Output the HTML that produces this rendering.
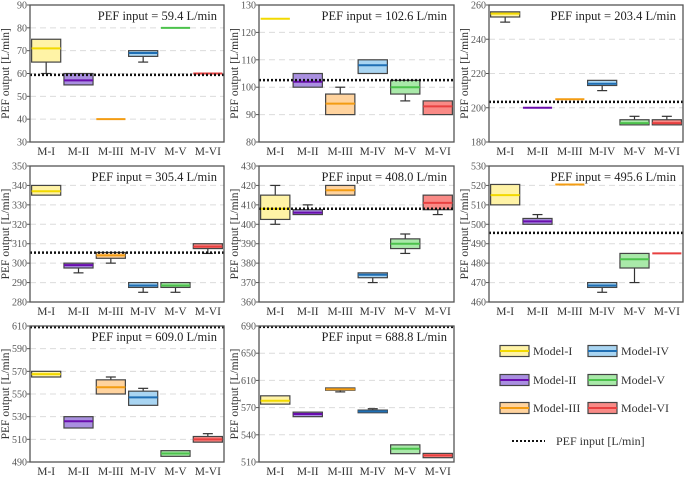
<!DOCTYPE html>
<html><head><meta charset="utf-8"><style>
html,body{margin:0;padding:0;background:#fff;}
svg{display:block;font-family:"Liberation Serif",serif;}
</style></head><body>
<svg id="c" width="685" height="477" viewBox="0 0 685 477" xmlns="http://www.w3.org/2000/svg"></svg>
<script>
const categories = ["M-I","M-II","M-III","M-IV","M-V","M-VI"];
const modelNames = ["Model-I","Model-II","Model-III","Model-IV","Model-V","Model-VI"];
const fills = ["#fff3a6","#a98fe0","#ffd39e","#a9d5f2","#a9e9a9","#f98a86"];
const medCols = ["#f2d900","#6a0dad","#f39c12","#1f6fb4","#4cc24c","#e84040"];
const pefInputs = [59.4,102.6,203.4,305.4,408.0,495.6,609.0,688.8];
const yMins = [30,80,180,280,360,460,490,510];
const yMaxs = [90,130,260,350,430,530,610,690];
const tickVals = [
 [30,40,50,60,70,80,90],[80,90,100,110,120,130],[180,200,220,240,260],
 [280,290,300,310,320,330,340,350],[360,370,380,390,400,410,420,430],
 [460,470,480,490,500,510,520,530],[490,510,530,550,570,590,610],
 [510,546,582,618,654,690]];
const tickLabels = [
 ["30","40","50","60","70","80","90"],["80","90","100","110","120","130"],["180","200","220","240","260"],
 ["280","290","300","310","320","330","340","350"],["360","370","380","390","400","410","420","430"],
 ["460","470","480","490","500","510","520","530"],["490","510","530","550","570","590","610"],
 ["510","540","570","610","650","690"]];
// per model: [whiskerLow, q1, median, q3, whiskerHigh]
const p1 = [[60,65,71,75,75],[55,55,57,60,60],[40,40,40,40,40],[65,67.5,69,70,70],[80,80,80,80,80],[60,60,60,60,60]];
const p2 = [[125,125,125,125,125],[100,100,102,105,105],[90,90,94,97.5,100],[105,105,108,110,110],[95,97.5,100,102.5,102.5],[90,90,93,95,95]];
const p3 = [[250,253,255,256,256],[200,200,200,200,200],[205,205,205,205,205],[210,213,214,216,216],[190,190,191,193,195],[190,190,191,193,195]];
const p4 = [[335,335,337,340,340],[295,297.5,299,300,300],[300,302.5,304,305.5,305.5],[285,287.5,288.5,290,290],[285,287.5,288.5,290,290],[305,307.5,308.5,310,310]];
const p5 = [[400,402.5,408,415,420],[405,405,406,407.5,410],[415,415,417.5,420,420],[370,372.5,374,375,375],[385,387.5,390,392.5,395],[405,407.5,411,415,415]];
const p6 = [[510,510,515,520.5,520.5],[500,500,501.5,503,505],[520.5,520.5,520.5,520.5,520.5],[465,467.5,468.5,470,470],[470,477.5,482,485,485],[485,485,485,485,485]];
const p7 = [[565,565,567.5,570,570],[520,520,526,530,530],[550,550,556,562.5,565],[540,540,547,552.5,555],[495,495,497.5,500,500],[507.5,507.5,510,512.5,515]];
const p8 = [[586.6,586.6,591,597.6,597.6],[570,570,573.5,576,576],[602.8,605,606.3,608,608],[575.2,575.2,577,578.7,580.5],[521,521,527.5,532.7,532.7],[515.7,515.7,518.7,521.4,521.4]];
const panelsData = [p1,p2,p3,p4,p5,p6,p7,p8];

const NS="http://www.w3.org/2000/svg";
const svg=document.getElementById('c');
function mk(tag,attrs,parent){const e=document.createElementNS(NS,tag);for(const k in attrs)e.setAttribute(k,attrs[k]);(parent||svg).appendChild(e);return e;}
const colX=[[30,224],[259,454],[489,683]];
const rowY=[[5,142],[166,302],[326,462]];
for(let p=0;p<8;p++){
  const c=p%3, r=Math.floor(p/3);
  const x0=colX[c][0], x1=colX[c][1], y0=rowY[r][0], y1=rowY[r][1];
  const g=mk('g',{});
  
  
  const ys=v=>y1-(v-yMins[p])/(yMaxs[p]-yMins[p])*(y1-y0);
  const band=(x1-x0)/6;
  const xs=i=>x0+band*(i+0.5);
  tickVals[p].forEach((v,k)=>{
    const y=ys(v);
    if(k>0&&k<tickVals[p].length-1){
      const gl=mk('line',{x1:x0,x2:x1,y1:y,y2:y,stroke:'#dcdcdc','stroke-width':1,'stroke-dasharray':'6,4'},g);
      
      
    }
    mk('line',{x1:x0-3,x2:x0,y1:y,y2:y,stroke:'#555','stroke-width':1},g);
    const t=mk('text',{x:x0-3,y:y+3.5,'text-anchor':'end','font-size':10,fill:'#555'},g);
    t.textContent=tickLabels[p][k];
    
    
  });
  panelsData[p].forEach((d,i)=>{
    const cx=xs(i), w=band*0.9, bx=cx-w/2;
    const bg=mk('g',{},g);
    
    
    if(d[0]<d[1]){mk('line',{x1:cx,x2:cx,y1:ys(d[1]),y2:ys(d[0]),stroke:'#333','stroke-width':1.2},bg);mk('line',{x1:cx-5,x2:cx+5,y1:ys(d[0]),y2:ys(d[0]),stroke:'#333','stroke-width':1.2},bg);}
    if(d[4]>d[3]){mk('line',{x1:cx,x2:cx,y1:ys(d[3]),y2:ys(d[4]),stroke:'#333','stroke-width':1.2},bg);mk('line',{x1:cx-5,x2:cx+5,y1:ys(d[4]),y2:ys(d[4]),stroke:'#333','stroke-width':1.2},bg);}
    const h=ys(d[1])-ys(d[3]);
    if(h>0.5) mk('rect',{x:bx,y:ys(d[3]),width:w,height:h,fill:fills[i],stroke:'#444','stroke-width':1.2},bg);
    mk('line',{x1:bx,x2:bx+w,y1:ys(d[2]),y2:ys(d[2]),stroke:medCols[i],'stroke-width':2},bg);
    const t=mk('text',{x:cx,y:y1+13,'text-anchor':'middle','font-size':11.5,fill:'#333'},g);
    t.textContent=categories[i];
    
    
  });
  const iy=ys(pefInputs[p]);
  const il=mk('line',{x1:x0,x2:x1,y1:iy,y2:iy,stroke:'#111','stroke-width':2.5,'stroke-dasharray':'2,2'},g);
  
  
  mk('rect',{x:x0,y:y0,width:x1-x0,height:y1-y0,fill:'none',stroke:'#555','stroke-width':1.3},g);
  const ann=mk('text',{x:x1-7,y:y0+15,'text-anchor':'end','font-size':12.5,fill:'#222'},g);
  ann.textContent='PEF input = '+pefInputs[p].toFixed(1)+' L/min';
  
  
  const yl=c===0?9:(c===1?238:468);
  const yt=mk('text',{x:yl,y:(y0+y1)/2,'text-anchor':'middle','font-size':11.5,fill:'#333',transform:'rotate(-90 '+yl+' '+((y0+y1)/2)+')'},g);
  yt.textContent='PEF output [L/min]';
  
  
}
const lg=mk('g',{});


const lx=[500,588], ly=[351,380,408];
for(let i=0;i<6;i++){
  const cc=Math.floor(i/3), rr=i%3;
  const e=mk('g',{},lg);
  
  
  mk('rect',{x:lx[cc],y:ly[rr]-5.5,width:29,height:11,fill:fills[i],stroke:'#444','stroke-width':1.2},e);
  mk('line',{x1:lx[cc],x2:lx[cc]+29,y1:ly[rr],y2:ly[rr],stroke:medCols[i],'stroke-width':2},e);
  const t=mk('text',{x:lx[cc]+33,y:ly[rr]+4,'font-size':12,fill:'#333'},e);
  t.textContent=modelNames[i];
}
const le=mk('g',{},lg);


mk('line',{x1:512,x2:545,y1:441,y2:441,stroke:'#111','stroke-width':2,'stroke-dasharray':'2,2'},le);
const lt=mk('text',{x:556,y:445,'font-size':12,fill:'#333'},le);
lt.textContent='PEF input [L/min]';
</script>
</body></html>
